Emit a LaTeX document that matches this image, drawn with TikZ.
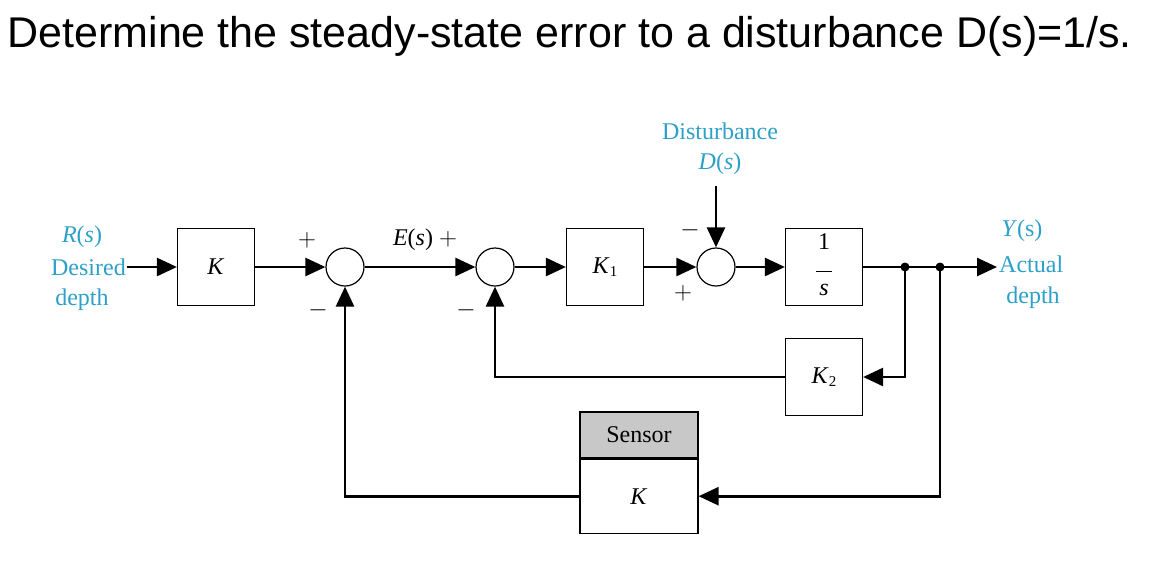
\documentclass[tikz,border=0pt]{standalone}
\usepackage{fontspec}
\setmainfont{Liberation Serif}
\newfontfamily\titlefont{Liberation Sans}
\usetikzlibrary{arrows.meta}
\definecolor{lbl}{RGB}{45,160,200}
\definecolor{hdr}{RGB}{200,200,200}
\newcommand{\iv}[1]{\textit{#1}}
\begin{document}
\begin{tikzpicture}[x=1pt,y=-1pt,
  every node/.style={font=\fontsize{24}{28}\selectfont},
  blk/.style={draw,line width=1.2pt,minimum width=77pt,minimum height=77pt,inner sep=0pt},
  sum/.style={draw,circle,line width=1.2pt,minimum size=38pt,inner sep=0pt},
  lab/.style={text=lbl,align=center},
  ln/.style={line width=2.6pt},
  ar/.style={ln,-{Triangle[length=20pt,width=18pt]}},
  dot/.style={circle,fill,inner sep=0pt,minimum size=9pt}]
\useasboundingbox (0,0) rectangle (1149,587);
\node[font=\titlefont\fontsize{43}{48}\selectfont,anchor=west] (title) at (4,36) {Determine the steady-state error to a disturbance D(s)=1/s.};
\node[lab] (rs) at (82,237) {\iv{R}(\iv{s})};
\node[lab,anchor=east,inner sep=1pt] (des) at (127,267) {Desired};
\node[lab] (dep1) at (82,300) {depth};
\node[blk] (k) at (216,267) {\iv{K}};
\node[sum] (s1) at (345,267) {};
\node[sum] (s2) at (495,267) {};
\node[blk] (k1) at (605,267) {\iv{K}\raisebox{-0.3ex}{\fontsize{15}{15}\selectfont 1}};
\node[sum] (s3) at (716,267) {};
\node[blk,align=center] (int) at (824,267) {\begin{tabular}{@{}c@{}}1\\[-6pt]\rule{16pt}{0.8pt}\\[-4pt]\iv{s}\end{tabular}};
\node[blk] (k2) at (824,377) {\iv{K}\raisebox{-0.3ex}{\fontsize{15}{15}\selectfont 2}};
\node[draw,line width=1.2pt,fill=hdr,minimum width=118pt,minimum height=46pt,inner sep=0pt] (sh) at (639,435) {Sensor};
\node[draw,line width=1.2pt,minimum width=118pt,minimum height=74pt,inner sep=0pt,anchor=north] (sk) at (sh.south) {\iv{K}};
\node[lab] (dist) at (720,131) {Disturbance};
\node[lab] (ds) at (720,164) {\iv{D}(\iv{s})};
\coordinate (dtop) at (716,186);
\node[lab] (ys) at (1022,231) {\iv{Y}(s)};
\node[lab,anchor=west,inner sep=1pt] (act) at (998,264) {Actual};
\node[lab] (dep2) at (1033,298) {depth};
\node (p1) at (307,240) {$+$};
\node (m1) at (318,310) {$-$};
\node (es) at (425,240) {\iv{E}(\iv{s}) $+$};
\node (m2) at (466,310) {$-$};
\node (m3) at (690,230) {$-$};
\node (p3) at (683,293) {$+$};
\node[dot] (d1) at (905,267) {};
\node[dot] (d2) at (940,267) {};
\coordinate (yend) at (997,267);
\draw[ar] (des.east) -- (k.west);
\draw[ar] (k.east) -- (s1.west);
\draw[ar] (s1.east) -- (s2.west);
\draw[ar] (s2.east) -- (k1.west);
\draw[ar] (k1.east) -- (s3.west);
\draw[ar] (dtop) -- (s3.north);
\draw[ar] (s3.east) -- (int.west);
\draw[ln] (int.east) -- (d2.center);
\draw[ar] (d2.center) -- (yend);
\draw[ar] (d1.center) |- (k2.east);
\draw[ar] (k2.west) -| (s2.south);
\draw[ar] (d2.center) |- (sk.east);
\draw[ar] (sk.west) -| (s1.south);
\end{tikzpicture}
\end{document}
